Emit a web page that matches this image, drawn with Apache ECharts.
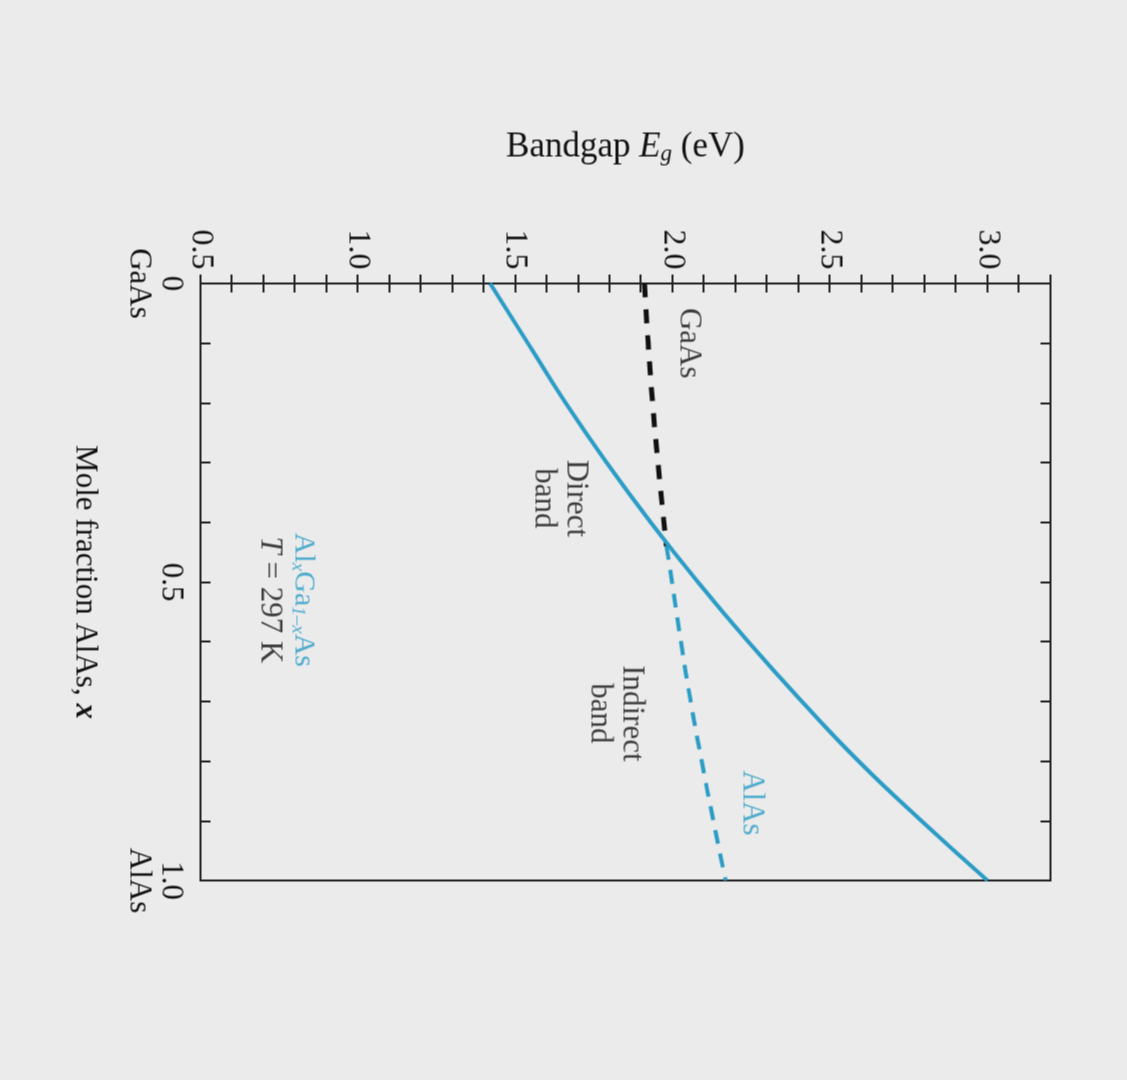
<!DOCTYPE html>
<html>
<head>
<meta charset="UTF-8">
<script src="https://cdn.jsdelivr.net/npm/echarts@6/dist/echarts.min.js"></script>
<style>
  html,body{margin:0;padding:0;width:1127px;height:1080px;overflow:hidden;background:#ebebeb;}
  #chart{position:absolute;left:23.5px;top:-23.5px;width:1080px;height:1127px;transform:rotate(90deg);}
</style>
</head>
<body>
<div id="chart"></div>
<script>
// mole fraction x of AlAs
var moleX = [0, 0.1, 0.2, 0.3, 0.4, 0.5, 0.6, 0.7, 0.8, 0.9, 1.0];
// direct (Gamma) bandgap, eV
var directEg = [1.42, 1.54, 1.66, 1.79, 1.93, 2.08, 2.24, 2.41, 2.59, 2.79, 3.0];
// indirect (X) bandgap, black part up to the crossing, teal part after
var indirectX1 = [0, 0.1, 0.2, 0.3, 0.44];
var indirectEg1 = [1.91, 1.922, 1.936, 1.953, 1.98];
var indirectX2 = [0.44, 0.5, 0.6, 0.7, 0.8, 0.9, 1.0];
var indirectEg2 = [1.98, 1.998, 2.026, 2.057, 2.092, 2.129, 2.168];

var teal = '#2b9cc6';
var font = 'Liberation Serif';
function pairs(a, b){ return a.map(function(v, i){ return [v, b[i]]; }); }
function near(v, t){ return Math.abs(v - t) < 1e-6; }

var chart = echarts.init(document.getElementById('chart'));
var txt = {fontFamily: font, fontSize: 31, color: '#111', lineHeight: 32};
function note(x, y, label){ return {value: [x, y], label: label}; }
var tickStyle = {color: '#222', width: 2};

chart.setOption({
  backgroundColor: '#ebebeb',
  animation: false,
  grid: {left: 283, right: 200, top: 77, bottom: 200, show: true, borderColor: '#222', borderWidth: 2},
  xAxis: [{
    type: 'value', min: 0, max: 1, interval: 0.1, position: 'bottom',
    name: '{n|Mole fraction AlAs, }{i|x}', nameLocation: 'middle', nameGap: 100,
    nameTextStyle: {rich: {
      n: {fontFamily: font, fontSize: 31, color: '#111'},
      i: {fontFamily: font, fontSize: 31, fontStyle: 'italic', fontWeight: 'bold', color: '#111'}
    }},
    axisLine: {lineStyle: {color: '#222', width: 2}},
    axisTick: {inside: true, length: 10, lineStyle: tickStyle},
    axisLabel: {fontFamily: font, fontSize: 31, color: '#111', margin: 14, lineHeight: 32,
      formatter: function(v){
        if (near(v, 0)) return '0\nGaAs';
        if (near(v, 0.5)) return '0.5';
        if (near(v, 1)) return '1.0\nAlAs';
        return '';
      }},
    splitLine: {show: false}
  }, {
    type: 'value', min: 0, max: 1, interval: 0.1, position: 'top',
    axisLine: {lineStyle: {color: '#222', width: 2}},
    axisTick: {inside: true, length: 10, lineStyle: tickStyle},
    axisLabel: {show: false}, splitLine: {show: false}
  }],
  yAxis: [{
    type: 'value', min: 0.5, max: 3.2, interval: 0.1, position: 'left',
    name: '{n|Bandgap }{i|E}{s|g}{n| (eV)}', nameLocation: 'middle', nameGap: 118,
    nameTextStyle: {rich: {
      n: {fontFamily: font, fontSize: 35, color: '#111'},
      i: {fontFamily: font, fontSize: 35, fontStyle: 'italic', color: '#111'},
      s: {fontFamily: font, fontSize: 23, fontStyle: 'italic', color: '#111', padding: [14, 0, 0, 0]}
    }},
    axisLine: {lineStyle: {color: '#222', width: 2}},
    axisTick: {inside: true, length: 9, lineStyle: tickStyle},
    axisLabel: {fontFamily: font, fontSize: 32, color: '#111', margin: 14,
      formatter: function(v){
        var k = Math.round(v * 10);
        return (k % 5 === 0 && k <= 30) ? (k / 10).toFixed(1) : '';
      }},
    splitLine: {show: false}
  }, {
    type: 'value', min: 0.5, max: 3.2, interval: 0.1, position: 'right',
    axisLine: {lineStyle: {color: '#222', width: 2}},
    axisTick: {inside: true, length: 9, lineStyle: tickStyle},
    axisLabel: {show: false}, splitLine: {show: false}
  }],
  series: [{
    type: 'line', data: pairs(indirectX1, indirectEg1), symbol: 'none', smooth: true,
    lineStyle: {color: '#111', width: 5, type: [14, 12]}
  }, {
    type: 'line', data: pairs(indirectX2, indirectEg2), symbol: 'none', smooth: true,
    lineStyle: {color: teal, width: 4, type: [14, 10]}
  }, {
    type: 'line', data: pairs(moleX, directEg), symbol: 'none', smooth: true,
    lineStyle: {color: teal, width: 4}
  }, {
    type: 'scatter', symbolSize: 0, silent: true,
    label: {show: true, position: 'inside'},
    data: [
      note(0.10, 2.05, Object.assign({formatter: 'GaAs'}, txt)),
      note(0.36, 1.64, Object.assign({formatter: 'Direct\nband'}, txt)),
      note(0.72, 1.82, Object.assign({formatter: 'Indirect\nband'}, txt)),
      note(0.87, 2.25, Object.assign({}, txt, {formatter: 'AlAs', color: teal})),
      note(0.53, 0.77, {formatter: '{t|Al}{ts|x}{t|Ga}{ts|1\u2013x}{t|As}\n{k|T}{b| = 297 K}', rich: {
        t: {fontFamily: font, fontSize: 30, color: teal},
        ts: {fontFamily: font, fontSize: 19, fontStyle: 'italic', color: teal, padding: [12, 0, 0, 0]},
        k: {fontFamily: font, fontSize: 31, fontStyle: 'italic', color: '#111', lineHeight: 36},
        b: {fontFamily: font, fontSize: 31, color: '#111', lineHeight: 36}
      }})
    ]
  }]
});
</script>
</body>
</html>
